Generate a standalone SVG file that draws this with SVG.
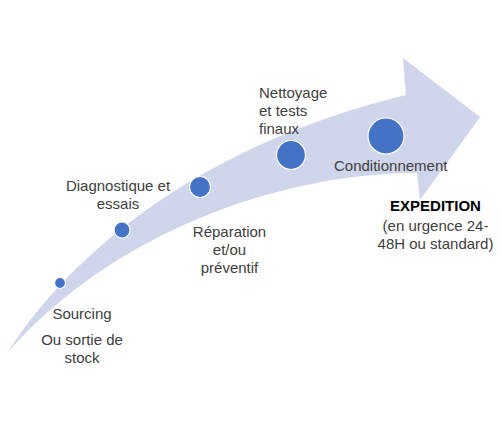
<svg xmlns="http://www.w3.org/2000/svg" width="501" height="445" viewBox="0 0 501 445">
<style>
.t{font-family:"Liberation Sans",Arial,sans-serif;font-size:15px;fill:#404040}
.c{text-anchor:middle}
.b{font-weight:bold;fill:#000}
.dot{fill:#4472C4;stroke:#fff;stroke-width:1.2}
</style>
<rect width="501" height="445" fill="#fff"/>
<g id="arrow">
<path d="M8,352 C60,270 180,150 406,95 L403,58 L480,117 L420,200 L417,173 C310,172 130,215 8,352 Z" fill="#CFD5EA"/>
</g>
<g id="connectors"></g>
<g id="sourcing">
<circle class="dot" cx="60" cy="283" r="5.5"/>
<text class="t c" x="82" y="319">Sourcing</text>
<text class="t c" x="82" y="345">Ou sortie de</text>
<text class="t c" x="82" y="363">stock</text>
</g>
<g id="diagnostique">
<circle class="dot" cx="122" cy="230" r="8"/>
<text class="t c" x="118" y="191">Diagnostique et</text>
<text class="t c" x="118" y="209">essais</text>
</g>
<g id="reparation">
<circle class="dot" cx="200" cy="187" r="10.5"/>
<text class="t c" x="229.5" y="237">Réparation</text>
<text class="t c" x="229.5" y="255">et/ou</text>
<text class="t c" x="229.5" y="273">préventif</text>
</g>
<g id="nettoyage">
<circle class="dot" cx="291" cy="155" r="14.5"/>
<text class="t" x="259" y="98">Nettoyage</text>
<text class="t" x="259" y="116">et tests</text>
<text class="t" x="259" y="134">finaux</text>
</g>
<g id="conditionnement">
<circle class="dot" cx="386" cy="136" r="18"/>
<text class="t" x="334" y="171">Conditionnement</text>
</g>
<g id="expedition">
<text class="t c b" x="435.5" y="211">EXPEDITION</text>
<text class="t c" x="435.5" y="231">(en urgence 24-</text>
<text class="t c" x="435.5" y="249">48H ou standard)</text>
</g>
</svg>
